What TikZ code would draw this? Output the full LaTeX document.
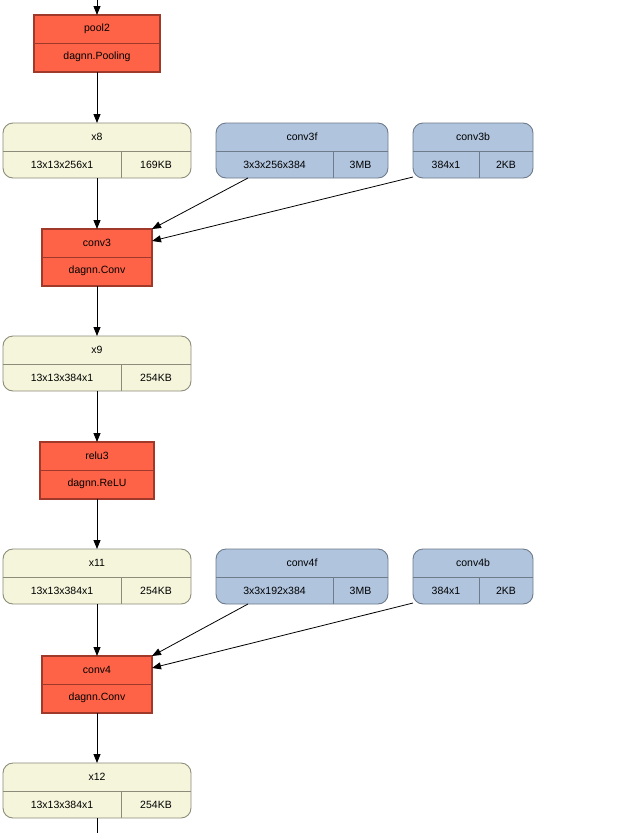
\documentclass[tikz,border=0pt]{standalone}
\usepackage{fontspec}
\setmainfont{Liberation Sans}
\usetikzlibrary{arrows.meta}
\definecolor{redf}{HTML}{FF6347}
\definecolor{redd}{HTML}{A0392A}
\definecolor{yelf}{HTML}{F5F5DC}
\definecolor{yeld}{HTML}{8C8C7A}
\definecolor{bluf}{HTML}{B0C4DE}
\definecolor{blud}{HTML}{6E7B8B}
\tikzset{
 op/.style={draw=redd,fill=redf,line width=1.4pt,inner sep=0,outer sep=0,anchor=north west},
 yv/.style={draw=yeld,fill=yelf,line width=0.9pt,rounded corners=10pt,inner sep=0,outer sep=0,anchor=north west},
 bv/.style={draw=blud,fill=bluf,line width=0.9pt,rounded corners=10pt,inner sep=0,outer sep=0,anchor=north west},
 txt/.style={font=\fontsize{10.5}{12}\selectfont,inner sep=0},
 edge/.style={-{Triangle[length=9pt,width=7pt]},line width=0.8pt,black}
}
\newcommand\varbox[9]{%
 \node[#2,minimum width={(#4-#3)*1pt},minimum height=55pt] (#1) at (#3,#5) {};
 \draw[#2 line] (#3,#5+28) -- (#4,#5+28);
 \draw[#2 line] (#6,#5+28) -- (#6,#5+55);
 \node[txt] at ({(#3+#4)/2},#5+14) {#7};
 \node[txt] at ({(#3+#6)/2},#5+42) {#8};
 \node[txt] at ({(#6+#4)/2},#5+42) {#9};
}
\newcommand\opbox[6]{%
 \node[op,minimum width={(#3-#2)*1pt},minimum height=57pt] (#1) at (#2,#4) {};
 \draw[redd,line width=1.4pt] (#2,#4+28.5) -- (#3,#4+28.5);
 \node[txt] at ({(#2+#3)/2},#4+14) {#5};
 \node[txt] at ({(#2+#3)/2},#4+42) {#6};
}
\tikzset{yv line/.style={draw=yeld,line width=0.9pt},bv line/.style={draw=blud,line width=0.9pt}}
\begin{document}
\begin{tikzpicture}[x=1pt,y=-1pt]
\useasboundingbox (0,0) rectangle (642,833);
\coordinate (top) at (97,0);
\coordinate (bot) at (97,833);
\opbox{pool2}{34}{160}{15}{pool2}{dagnn.Pooling}
\varbox{x8}{yv}{3}{191}{123}{121}{x8}{13x13x256x1}{169KB}
\varbox{conv3f}{bv}{216}{388}{123}{333}{conv3f}{3x3x256x384}{3MB}
\varbox{conv3b}{bv}{413}{533}{123}{479}{conv3b}{384x1}{2KB}
\opbox{conv3}{42}{152}{229}{conv3}{dagnn.Conv}
\varbox{x9}{yv}{3}{191}{336}{121}{x9}{13x13x384x1}{254KB}
\opbox{relu3}{40}{154}{442}{relu3}{dagnn.ReLU}
\varbox{x11}{yv}{3}{191}{549}{121}{x11}{13x13x384x1}{254KB}
\varbox{conv4f}{bv}{216}{388}{549}{333}{conv4f}{3x3x192x384}{3MB}
\varbox{conv4b}{bv}{413}{533}{549}{479}{conv4b}{384x1}{2KB}
\opbox{conv4}{42}{152}{656}{conv4}{dagnn.Conv}
\varbox{x12}{yv}{3}{191}{763}{121}{x12}{13x13x384x1}{254KB}
\draw[edge] (top) -- (pool2.north);
\draw[edge] (pool2.south) -- (x8.north);
\draw[edge] (x8.south) -- (conv3.north);
\draw[edge] (conv3f.south -| 248,0) -- (conv3.north east);
\draw[edge] (conv3b.south west) ++(0,-1) -- (152,241);
\draw[edge] (conv3.south) -- (x9.north);
\draw[edge] (x9.south) -- (relu3.north);
\draw[edge] (relu3.south) -- (x11.north);
\draw[edge] (x11.south) -- (conv4.north);
\draw[edge] (conv4f.south -| 248,0) -- (conv4.north east);
\draw[edge] (conv4b.south west) ++(0,-1) -- (152,668);
\draw[edge] (conv4.south) -- (x12.north);
\draw[line width=0.8pt] (x12.south) -- (bot);
\end{tikzpicture}
\end{document}
